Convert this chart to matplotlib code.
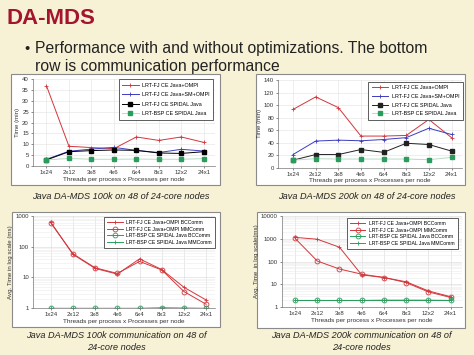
import matplotlib.pyplot as plt
from matplotlib.patches import Rectangle

plt.rcParams['font.family'] = ['Liberation Sans', 'DejaVu Sans']

# x categories: threads per process x processes per node
cats = ['1x24', '2x12', '3x8', '4x6', '6x4', '8x3', '12x2', '24x1']

# top-left: 100k total time (min)
t100_ompi = [37, 9.1, 8.5, 8.0, 13.4, 11.8, 13.4, 10.9]
t100_sm = [3.1, 6.8, 7.8, 8.6, 7.2, 6.2, 7.7, 6.9]
t100_spidal = [2.8, 6.6, 7.1, 7.4, 7.2, 6.0, 5.8, 6.6]
t100_bsp = [2.8, 3.5, 3.1, 3.1, 3.2, 3.1, 3.1, 3.4]

# top-right: 200k total time (min)
t200_ompi = [93, 113, 96, 50.5, 50.5, 51.5, 77, 48]
t200_sm = [21, 42.5, 44, 43, 45, 48, 63, 53]
t200_spidal = [12, 21, 21, 29, 24.5, 39, 37, 26.5]
t200_bsp = [12, 14.4, 13.8, 13.8, 13.8, 13.8, 12.8, 16.5]

# bottom-left: 100k communication (ms, log scale)
c100_fj_bc = [610, 56, 19.6, 12.8, 40, 18, 4.8, 1.86]
c100_fj_mm = [590, 58, 20.5, 13.5, 33, 17.5, 3.5, 1.35]
c100_bsp_bc = [1, 1, 1, 1, 1, 1, 1, 1]
c100_bsp_mm = [1, 1, 1, 1, 1, 1.04, 1.02, 1]

# bottom-right: 200k communication (ms, log scale)
c200_fj_bc = [1130, 940, 420, 26, 20, 13, 5.2, 2.9]
c200_fj_mm = [1030, 105, 47, 28, 20, 12, 4.7, 2.7]
c200_bsp_bc = [2, 2, 2, 2, 2, 2, 2, 2]
c200_bsp_mm = [2, 2, 2, 2, 2.05, 2.05, 2.05, 2]

W, H = 474, 355
BG = '#f7f2d6'
RED = '#d2373c'
BLUE = '#3c3cc0'
GREEN = '#2a9d5c'
LGREEN = '#b9dcc3'

fig = plt.figure(figsize=(W / 100, H / 100), dpi=100)
fig.patch.set_facecolor(BG)


def frac(x0, y0, x1, y1):
    # pixel box (top-left origin) -> figure fraction rect
    return [x0 / W, 1 - y1 / H, (x1 - x0) / W, (y1 - y0) / H]


def panel(x0, y0, x1, y1):
    fig.patches.append(Rectangle((x0 / W, 1 - y1 / H), (x1 - x0) / W, (y1 - y0) / H,
                                 transform=fig.transFigure, facecolor='white',
                                 edgecolor='#8a8a8a', linewidth=0.8, zorder=-5))


def style(ax, xlim, ylabel):
    x = range(len(cats))
    ax.set_xticks(list(x))
    ax.set_xticklabels(cats)
    ax.set_xlim(*xlim)
    ax.tick_params(labelsize=4.3, length=1.5, width=0.4, pad=1.5, colors='#333333')
    ax.set_xlabel('Threads per process x Processes per node', fontsize=4.6, labelpad=1,
                  color='#333333')
    ax.set_ylabel(ylabel, fontsize=4.4, labelpad=1.5, color='#333333')
    for s in ['top', 'right']:
        ax.spines[s].set_visible(False)
    for s in ['left', 'bottom']:
        ax.spines[s].set_linewidth(0.5)
        ax.spines[s].set_color('#777777')
    ax.set_axisbelow(True)
    ax.set_zorder(2)


def legend(ax, anchor, spacing, fs=3.9):
    lg = ax.legend(loc='upper right', bbox_to_anchor=anchor, borderaxespad=0,
                   fontsize=fs, fancybox=False, edgecolor='#444444', framealpha=1,
                   handlelength=3.0, labelspacing=spacing, borderpad=0.6, handletextpad=0.7)
    lg.get_frame().set_linewidth(0.6)


x = list(range(len(cats)))

# ---------------- top-left ----------------
panel(11, 74, 220, 185)
ax = fig.add_axes(frac(33, 79.3, 215, 166))
ax.plot(x, t100_ompi, color=RED, lw=0.7, marker='+', ms=2.5, mew=0.6, label='LRT-FJ CE Java+OMPI')
ax.plot(x, t100_sm, color=BLUE, lw=0.7, marker='+', ms=2.5, mew=0.6, label='LRT-FJ CE Java+SM+OMPI')
ax.plot(x, t100_spidal, color='black', lw=0.7, marker='s', ms=3, label='LRT-FJ CE SPIDAL Java')
ax.plot(x, t100_bsp, color=LGREEN, lw=0.7, marker='s', ms=3, mfc=GREEN, mec=GREEN,
        label='LRT-BSP CE SPIDAL Java')
ax.set_ylim(0, 40)
ax.set_yticks(range(0, 41, 5))
ax.grid(True, color='#e2e2e2', lw=0.4)
style(ax, (-0.6, 7.5), 'Time (min)')
legend(ax, (0.99, 1.0), 0.85)

# ---------------- top-right ----------------
panel(256, 74, 465, 185)
ax = fig.add_axes(frac(278.3, 80, 461.7, 167.7))
ax.plot(x, t200_ompi, color=RED, lw=0.7, marker='+', ms=2.5, mew=0.6, label='LRT-FJ CE Java+OMPI')
ax.plot(x, t200_sm, color=BLUE, lw=0.7, marker='+', ms=2.5, mew=0.6, label='LRT-FJ CE Java+SM+OMPI')
ax.plot(x, t200_spidal, color='#222222', lw=0.7, marker='s', ms=3, label='LRT-FJ CE SPIDAL Java')
ax.plot(x, t200_bsp, color=LGREEN, lw=0.7, marker='s', ms=3, mfc=GREEN, mec=GREEN,
        label='LRT-BSP CE SPIDAL Java')
ax.set_ylim(0, 140)
ax.set_yticks(range(0, 141, 20))
ax.grid(True, color='#e2e2e2', lw=0.4)
style(ax, (-0.65, 7.45), 'Time (min)')
legend(ax, (1.005, 0.98), 0.7)

# ---------------- bottom-left ----------------
panel(12, 212, 220, 327)
ax = fig.add_axes(frac(33, 215.7, 215, 308.3))
ax.plot(x, c100_fj_bc, color=RED, lw=0.7, marker='+', ms=2.5, mew=0.6, label='LRT-FJ CE Java+OMPI BCComm')
ax.plot(x, c100_fj_mm, color=RED, lw=0.7, marker='o', ms=3.5, mfc='none', mew=0.6,
        label='LRT-FJ CE Java+OMPI MMComm')
ax.plot(x, c100_bsp_bc, color=GREEN, lw=0.7, marker='o', ms=3.5, mfc='none', mew=0.6,
        label='LRT-BSP CE SPIDAL Java BCComm')
ax.plot(x, c100_bsp_mm, color=GREEN, lw=0.7, marker='+', ms=2.5, mew=0.6,
        label='LRT-BSP CE SPIDAL Java MMComm')
ax.set_yscale('log')
ax.set_ylim(1, 1000)
ax.set_yticks([1, 10, 100, 1000])
ax.set_yticklabels(['1', '10', '100', '1000'])
ax.grid(True, which='major', color='#d8d8d8', lw=0.4)
ax.grid(True, which='minor', axis='y', color='#ececec', lw=0.4)
ax.tick_params(which='minor', length=0)
style(ax, (-0.8, 7.4), 'Avg. Time in log scale (ms)')
legend(ax, (1.0, 0.985), 0.3, fs=3.7)

# ---------------- bottom-right ----------------
panel(257, 212, 465, 328)
ax = fig.add_axes(frac(281.7, 215.7, 461.7, 307.3))
ax.plot(x, c200_fj_bc, color=RED, lw=0.7, marker='+', ms=2.5, mew=0.6, label='LRT-FJ CE Java+OMPI BCComm')
ax.plot(x, c200_fj_mm, color=RED, lw=0.7, marker='o', ms=3.5, mfc='none', mew=0.6,
        label='LRT-FJ CE Java+OMPI MMComm')
ax.plot(x, c200_bsp_bc, color=GREEN, lw=0.7, marker='o', ms=3.5, mfc='none', mew=0.6,
        label='LRT-BSP CE SPIDAL Java BCComm')
ax.plot(x, c200_bsp_mm, color=GREEN, lw=0.7, marker='+', ms=2.5, mew=0.6,
        label='LRT-BSP CE SPIDAL Java MMComm')
ax.set_yscale('log')
ax.set_ylim(1, 10000)
ax.set_yticks([1, 10, 100, 1000, 10000])
ax.set_yticklabels(['1', '10', '100', '1000', '10000'])
ax.grid(True, which='major', color='#d8d8d8', lw=0.4)
ax.grid(True, which='minor', axis='y', color='#ececec', lw=0.4)
ax.tick_params(which='minor', length=0)
style(ax, (-0.6, 7.5), 'Avg. Time  in log scale(ms)')
legend(ax, (0.978, 0.975), 0.3, fs=3.7)

# ---------------- slide text ----------------
fig.text(7 / W, 1 - 19 / H, 'DA-MDS', fontsize=16, fontweight='bold', color='#a4142f',
         va='center', ha='left')
fig.text(24 / W, 1 - 53.5 / H, '\u2022', fontsize=10.5, color='#222222', va='baseline')
fig.text(35 / W, 1 - 53.5 / H, 'Performance with and without optimizations. The bottom',
         fontsize=11.3, color='#222222', va='baseline')
fig.text(35 / W, 1 - 71 / H, 'row is communication performance',
         fontsize=11.3, color='#222222', va='baseline')

cap = dict(fontsize=6.6, style='italic', color='#222222', ha='center', va='center')
fig.text(121 / W, 1 - 196 / H, 'Java DA-MDS 100k on 48 of 24-core nodes', **cap)
fig.text(367 / W, 1 - 196 / H, 'Java DA-MDS 200k on 48 of 24-core nodes', **cap)
fig.text(116 / W, 1 - 336 / H, 'Java DA-MDS 100k communication on 48 of', **cap)
fig.text(116 / W, 1 - 347.5 / H, '24-core nodes', **cap)
fig.text(361 / W, 1 - 336 / H, 'Java DA-MDS 200k communication on 48 of', **cap)
fig.text(361 / W, 1 - 347.5 / H, '24-core nodes', **cap)

fig.savefig('out.png', dpi=100, facecolor=BG)
